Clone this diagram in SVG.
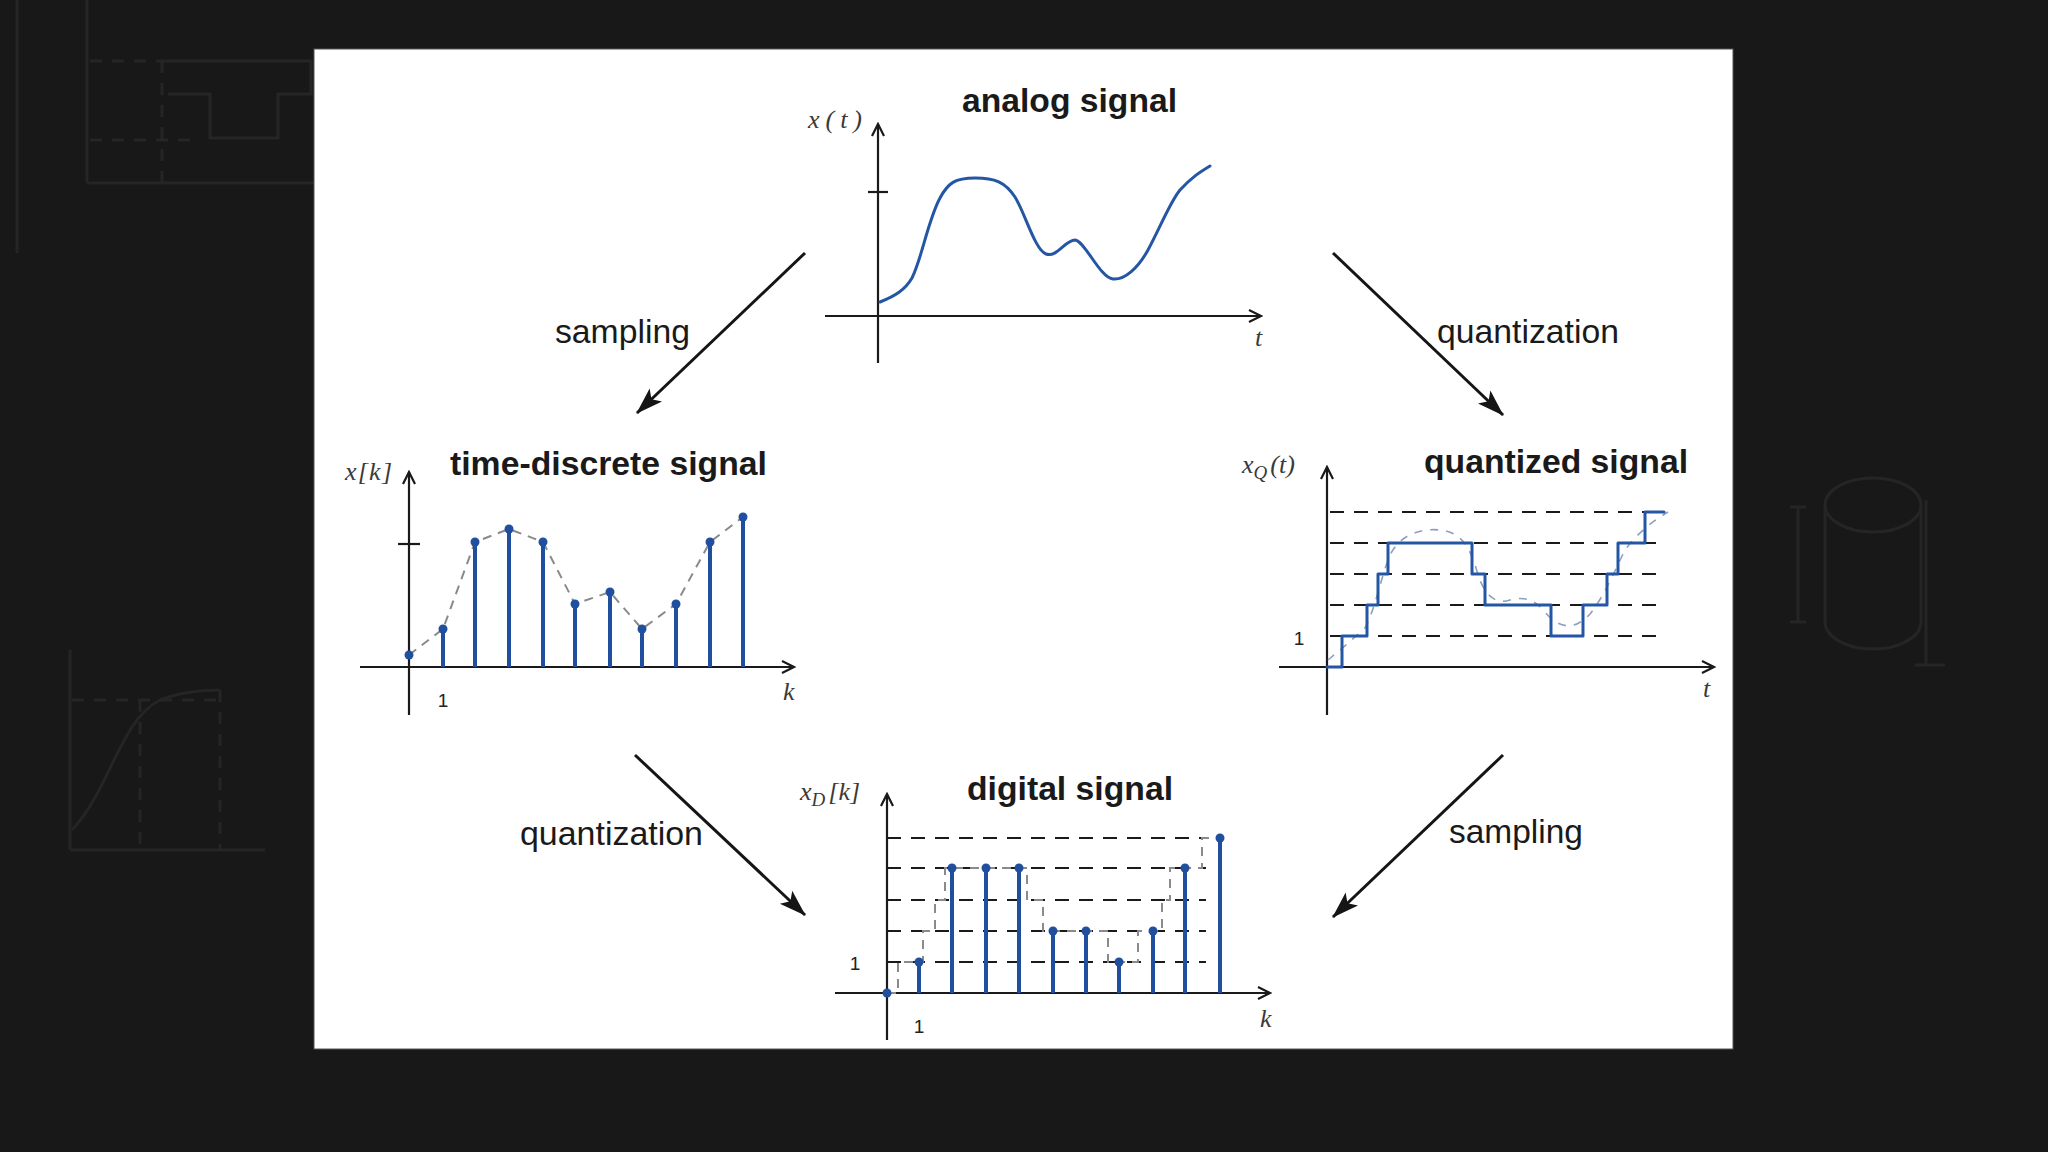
<svg xmlns="http://www.w3.org/2000/svg" width="2048" height="1152" viewBox="0 0 2048 1152">
<defs>
<style>
.title{font-family:"Liberation Sans",Arial,sans-serif;font-weight:bold;font-size:34px;fill:#1a1a1a}
.lbl{font-family:"Liberation Sans",Arial,sans-serif;font-size:34px;fill:#1a1a1a}
.ax{font-family:"Liberation Serif","Times New Roman",serif;font-style:italic;font-size:26px;fill:#3a3a3a}
.num{font-family:"Liberation Sans",Arial,sans-serif;font-size:19px;fill:#222}
.axis{stroke:#1a1a1a;stroke-width:2.2;fill:none}
.axarrow{stroke:#1a1a1a;stroke-width:2.2;fill:none;marker-end:url(#axh)}
.sig{stroke:#2456a4;stroke-width:3;fill:none;stroke-linejoin:round;stroke-linecap:round}
.stem{stroke:#1f4f9e;stroke-width:4;fill:none}
.dot{fill:#1f4f9e}
.lvl{stroke:#1a1a1a;stroke-width:2;stroke-dasharray:14 10;fill:none}
.guide{stroke:#8a8a8a;stroke-width:2;stroke-dasharray:9 7;fill:none}
.faint{stroke:#8aa0c0;stroke-width:1.6;stroke-dasharray:8 8;fill:none}
.conn{stroke:#151515;stroke-width:3;fill:none;marker-end:url(#ah)}
.bg{stroke:#252525;stroke-width:3;fill:none}
.bgd{stroke:#252525;stroke-width:3;fill:none;stroke-dasharray:12 10}
</style>
<marker id="ah" markerWidth="28" markerHeight="20" refX="26" refY="10" orient="auto" markerUnits="userSpaceOnUse">
<path d="M0,1 L27,10 L0,19 L6,10 Z" fill="#151515"/>
</marker>
<marker id="axh" markerWidth="16" markerHeight="16" refX="14" refY="8" orient="auto" markerUnits="userSpaceOnUse">
<path d="M2,2 L14,8 L2,14" fill="none" stroke="#1a1a1a" stroke-width="2.2"/>
</marker>
</defs>

<rect x="0" y="0" width="2048" height="1152" fill="#181818"/>

<g id="background-sketches">
<line class="bg" x1="17" y1="0" x2="17" y2="253"/>
<line class="bg" x1="87" y1="0" x2="87" y2="183"/>
<line class="bg" x1="87" y1="183" x2="314" y2="183"/>
<line class="bgd" x1="90" y1="61" x2="165" y2="61"/>
<line class="bgd" x1="90" y1="140" x2="200" y2="140"/>
<line class="bgd" x1="162" y1="61" x2="162" y2="183"/>
<path class="bg" d="M165,61 L311,61 L311,94 L278,94 L278,138 L210,138 L210,94 L168,94"/>
<line class="bg" x1="70" y1="850" x2="265" y2="850"/>
<line class="bg" x1="70" y1="650" x2="70" y2="850"/>
<path class="bg" d="M72,830 C110,790 120,720 160,700 C180,692 200,690 220,690"/>
<line class="bgd" x1="72" y1="700" x2="220" y2="700"/>
<line class="bgd" x1="140" y1="700" x2="140" y2="850"/>
<line class="bgd" x1="220" y1="690" x2="220" y2="850"/>
<ellipse class="bg" cx="1873" cy="505" rx="48" ry="27"/>
<path class="bg" d="M1825,505 L1825,622 A48,27 0 0 0 1921,622 L1921,505"/>
<line class="bg" x1="1798" y1="507" x2="1798" y2="622"/>
<line class="bg" x1="1790" y1="507" x2="1806" y2="507"/>
<line class="bg" x1="1790" y1="622" x2="1806" y2="622"/>
<line class="bg" x1="1926" y1="500" x2="1926" y2="665"/>
<line class="bg" x1="1915" y1="665" x2="1945" y2="665"/>
</g>

<rect x="314" y="49" width="1419" height="1000" fill="#ffffff" stroke="#555" stroke-width="1"/>

<g id="analog-signal">
<text class="title" x="962" y="112" textLength="215" lengthAdjust="spacingAndGlyphs">analog signal</text>
<text class="ax" x="808" y="128" textLength="54" lengthAdjust="spacing">x(t)</text>
<line class="axarrow" x1="878" y1="363" x2="878" y2="124"/>
<line class="axarrow" x1="825" y1="316" x2="1261" y2="316"/>
<line class="axis" x1="868" y1="192" x2="888" y2="192"/>
<text class="ax" x="1255" y="346">t</text>
<path class="sig" d="M880,302 C895,296 905,290 912,278 C922,258 928,220 940,198 C948,183 955,178 975,178 C995,178 1005,182 1015,197 C1025,213 1035,250 1046,254 C1057,258 1065,240 1075,240 C1085,241 1100,278 1113,279 C1125,280 1138,268 1148,250 C1160,228 1170,202 1180,190 C1192,177 1200,172 1210,166"/>
</g>

<g id="time-discrete-signal">
<text class="title" x="450" y="475" textLength="317" lengthAdjust="spacingAndGlyphs">time-discrete signal</text>
<text class="ax" x="345" y="480" textLength="47" lengthAdjust="spacing">x[k]</text>
<line class="axarrow" x1="409" y1="715" x2="409" y2="472"/>
<line class="axarrow" x1="360" y1="667" x2="794" y2="667"/>
<line class="axis" x1="398" y1="544" x2="420" y2="544"/>
<text class="num" x="443" y="707" text-anchor="middle">1</text>
<text class="ax" x="783" y="700">k</text>
<polyline class="guide" points="409,655 443,629 475,542 509,529 543,542 575,604 610,592 642,629 676,604 710,542 743,517"/>
<path class="stem" d="M443,667 V629 M475,667 V542 M509,667 V529 M543,667 V542 M575,667 V604 M610,667 V592 M642,667 V629 M676,667 V604 M710,667 V542 M743,667 V517"/>
<g class="dot">
<circle cx="409" cy="655" r="4.5"/><circle cx="443" cy="629" r="4.5"/><circle cx="475" cy="542" r="4.5"/><circle cx="509" cy="529" r="4.5"/><circle cx="543" cy="542" r="4.5"/><circle cx="575" cy="604" r="4.5"/><circle cx="610" cy="592" r="4.5"/><circle cx="642" cy="629" r="4.5"/><circle cx="676" cy="604" r="4.5"/><circle cx="710" cy="542" r="4.5"/><circle cx="743" cy="517" r="4.5"/>
</g>
</g>

<g id="quantized-signal">
<text class="title" x="1424" y="473" textLength="264" lengthAdjust="spacingAndGlyphs">quantized signal</text>
<text class="ax" x="1242" y="473">x<tspan font-size="19" dy="6">Q</tspan><tspan dy="-6" dx="3">(t)</tspan></text>
<line class="axarrow" x1="1327" y1="715" x2="1327" y2="467"/>
<line class="axarrow" x1="1279" y1="667" x2="1714" y2="667"/>
<text class="num" x="1299" y="645" text-anchor="middle">1</text>
<text class="ax" x="1703" y="697">t</text>
<g>
<line class="lvl" x1="1330" y1="636" x2="1664" y2="636"/>
<line class="lvl" x1="1330" y1="605" x2="1664" y2="605"/>
<line class="lvl" x1="1330" y1="574" x2="1664" y2="574"/>
<line class="lvl" x1="1330" y1="543" x2="1664" y2="543"/>
<line class="lvl" x1="1330" y1="512" x2="1664" y2="512"/>
</g>
<path class="faint" d="M1328,660 C1340,650 1352,640 1365,628 C1375,610 1380,580 1390,555 C1400,535 1420,528 1440,530 C1460,532 1470,545 1478,575 C1485,595 1495,605 1510,600 C1525,596 1535,600 1545,612 C1560,630 1575,630 1590,614 C1605,595 1615,570 1625,550 C1640,530 1655,520 1668,512"/>
<path class="sig" stroke="#224a8c" stroke-linecap="butt" stroke-linejoin="miter" d="M1327,667 H1342 V636 H1367 V605 H1378 V574 H1388 V543 H1472 V574 H1485 V605 H1551 V636 H1583 V605 H1607 V574 H1618 V543 H1645 V512 H1664"/>
</g>

<g id="digital-signal">
<text class="title" x="967" y="800" textLength="206" lengthAdjust="spacingAndGlyphs">digital signal</text>
<text class="ax" x="800" y="800">x<tspan font-size="19" dy="6">D</tspan><tspan dy="-6" dx="3">[k]</tspan></text>
<line class="axarrow" x1="887" y1="1040" x2="887" y2="794"/>
<line class="axarrow" x1="835" y1="993" x2="1270" y2="993"/>
<text class="num" x="855" y="970" text-anchor="middle">1</text>
<text class="num" x="919" y="1033" text-anchor="middle">1</text>
<text class="ax" x="1260" y="1027">k</text>
<g>
<line class="lvl" x1="887" y1="962" x2="1206" y2="962"/>
<line class="lvl" x1="887" y1="931" x2="1206" y2="931"/>
<line class="lvl" x1="887" y1="900" x2="1206" y2="900"/>
<line class="lvl" x1="887" y1="868" x2="1206" y2="868"/>
<line class="lvl" x1="887" y1="838" x2="1206" y2="838"/>
</g>
<path class="guide" stroke="#b0b0b0" d="M887,993 H898 V962 H923 V931 H935 V900 H945 V868 H1027 V900 H1043 V931 H1108 V962 H1138 V931 H1162 V900 H1170 V868 H1202 V838 H1215"/>
<path class="stem" d="M919,993 V962 M952,993 V868 M986,993 V868 M1019,993 V868 M1053,993 V931 M1086,993 V931 M1119,993 V962 M1153,993 V931 M1185,993 V868 M1220,993 V838"/>
<g class="dot">
<circle cx="887" cy="993" r="4.5"/><circle cx="919" cy="962" r="4.5"/><circle cx="952" cy="868" r="4.5"/><circle cx="986" cy="868" r="4.5"/><circle cx="1019" cy="868" r="4.5"/><circle cx="1053" cy="931" r="4.5"/><circle cx="1086" cy="931" r="4.5"/><circle cx="1119" cy="962" r="4.5"/><circle cx="1153" cy="931" r="4.5"/><circle cx="1185" cy="868" r="4.5"/><circle cx="1220" cy="838" r="4.5"/>
</g>
</g>

<g id="connectors">
<line class="conn" x1="805" y1="253" x2="637" y2="413"/>
<line class="conn" x1="1333" y1="253" x2="1503" y2="415"/>
<line class="conn" x1="635" y1="755" x2="805" y2="915"/>
<line class="conn" x1="1503" y1="755" x2="1333" y2="917"/>
<text class="lbl" x="555" y="343" textLength="135" lengthAdjust="spacingAndGlyphs">sampling</text>
<text class="lbl" x="1437" y="343" textLength="182" lengthAdjust="spacingAndGlyphs">quantization</text>
<text class="lbl" x="520" y="845" textLength="183" lengthAdjust="spacingAndGlyphs">quantization</text>
<text class="lbl" x="1449" y="843" textLength="134" lengthAdjust="spacingAndGlyphs">sampling</text>
</g>
</svg>
